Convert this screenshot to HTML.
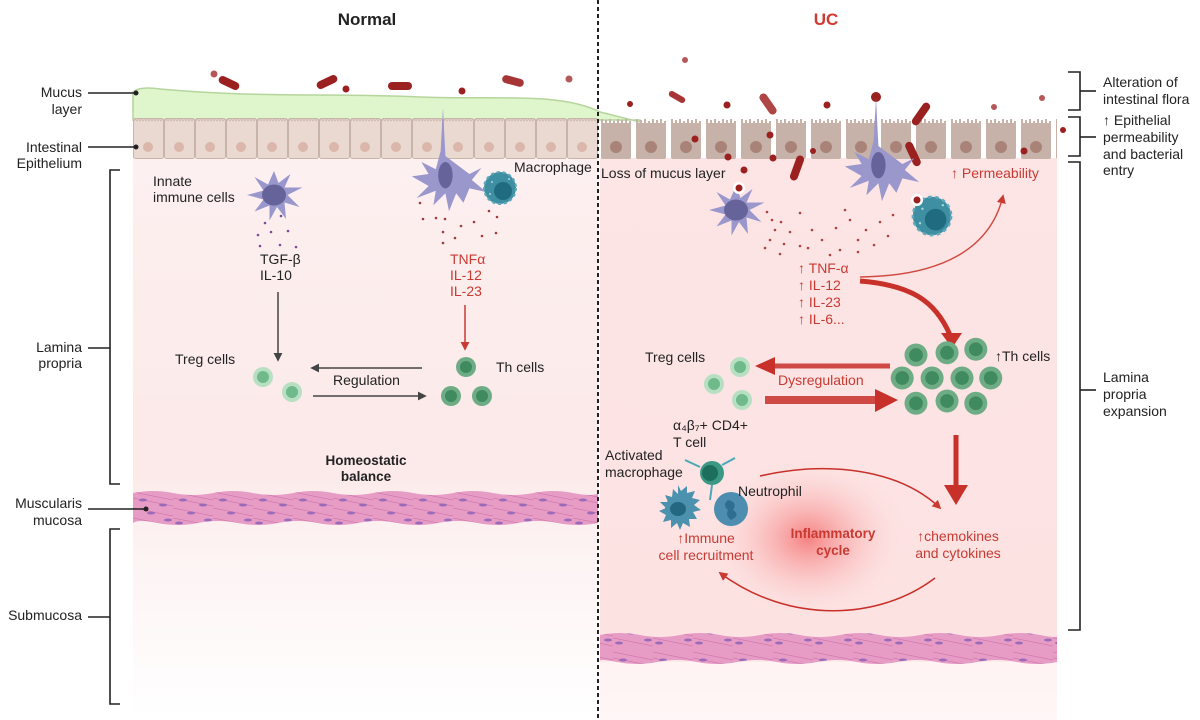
<!DOCTYPE html>
<html><head><meta charset="utf-8"><style>
html,body{margin:0;padding:0;background:#fff;}
svg{display:block;font-family:"Liberation Sans",Arial,sans-serif;}
</style></head><body>
<svg width="1200" height="720" viewBox="0 0 1200 720" xmlns="http://www.w3.org/2000/svg">
<defs>
<linearGradient id="lpN" x1="0" y1="0" x2="0" y2="1">
<stop offset="0" stop-color="#fdf0f0"/><stop offset="0.55" stop-color="#fce9e9"/><stop offset="0.7" stop-color="#fdf3f3"/><stop offset="1" stop-color="#ffffff"/></linearGradient>
<linearGradient id="lpU" x1="0" y1="0" x2="0" y2="1">
<stop offset="0" stop-color="#fde5e5"/><stop offset="0.85" stop-color="#fde2e2"/><stop offset="1" stop-color="#fff8f8"/></linearGradient>
<radialGradient id="glow" cx="0.5" cy="0.5" r="0.5">
<stop offset="0" stop-color="#f47070" stop-opacity="0.85"/><stop offset="0.5" stop-color="#f8a0a0" stop-opacity="0.4"/><stop offset="1" stop-color="#fde0e0" stop-opacity="0"/></radialGradient>
<pattern id="cellN" x="133" y="118" width="31" height="42" patternUnits="userSpaceOnUse">
<rect x="0.5" y="0.5" width="30" height="40" rx="2" fill="#ead9d0" stroke="#c9b4aa"/>
<circle cx="15" cy="29" r="5" fill="#dbb6aa"/>
<path d="M1 3 q1.5 -3 3 0 q1.5 -3 3 0 q1.5 -3 3 0 q1.5 -3 3 0 q1.5 -3 3 0 q1.5 -3 3 0 q1.5 -3 3 0 q1.5 -3 3 0 q1.5 -3 3 0 q1.5 -3 3 0" fill="none" stroke="#c9b4aa" stroke-width="0.7"/>
</pattern>
<pattern id="cellU" x="600" y="118" width="35" height="42" patternUnits="userSpaceOnUse">
<rect x="1" y="5" width="30" height="36" rx="2" fill="#c6b2a8"/>
<path d="M2 6 v-5 M6 6 v-4 M10 6 v-5 M14 6 v-3 M18 6 v-5 M22 6 v-4 M26 6 v-5 M30 6 v-3" stroke="#c6b2a8" stroke-width="2"/>
<circle cx="16" cy="29" r="6" fill="#a98378"/>
</pattern>
<pattern id="musc" x="133" y="490" width="40" height="40" patternUnits="userSpaceOnUse">
<rect width="40" height="40" fill="#e79cc6"/>
<path d="M0 8 L40 16 M0 18 L40 26 M0 28 L40 36 M0 2 L40 10" stroke="#c96aa3" stroke-width="0.6"/>
<ellipse cx="10" cy="10" rx="4" ry="1.5" fill="#9a6bb8"/><ellipse cx="30" cy="15" rx="4" ry="1.5" fill="#9a6bb8"/>
<ellipse cx="18" cy="23" rx="4" ry="1.5" fill="#9a6bb8"/><ellipse cx="35" cy="30" rx="4" ry="1.5" fill="#9a6bb8"/><ellipse cx="6" cy="33" rx="4" ry="1.5" fill="#9a6bb8"/>
</pattern>
<marker id="ak" viewBox="0 0 10 10" refX="8" refY="5" markerWidth="6" markerHeight="6" orient="auto"><path d="M0 0L10 5L0 10z" fill="#444"/></marker>
<marker id="ar" viewBox="0 0 10 10" refX="8" refY="5" markerWidth="6" markerHeight="6" orient="auto"><path d="M0 0L10 5L0 10z" fill="#c83a32"/></marker>
<g id="dc"><path d="M0 -14 l3 8 l8 -6 l-4 9 l12 0 l-10 5 l8 8 l-10 -3 l1 11 l-6 -8 l-5 9 l0 -10 l-10 4 l6 -8 l-11 -3 l11 -3 l-6 -9 l9 5z" fill="#9a97cc"/><ellipse cx="0" cy="2" rx="8" ry="7" fill="#66639a"/></g>
<g id="mac"><circle r="16" fill="#3f8fa3"/><circle r="16" fill="none" stroke="#5fa9ba" stroke-width="2" stroke-dasharray="3 3"/><circle cx="3" cy="3" r="9" fill="#206b80"/><circle cx="-8" cy="-6" r="1" fill="#a9d6df"/><circle cx="9" cy="-9" r="1" fill="#a9d6df"/><circle cx="-10" cy="6" r="1" fill="#a9d6df"/></g>
<g id="th"><circle r="10" fill="#6eac86"/><circle r="6" fill="#3f8a5e"/></g>
<g id="tr"><circle r="10" fill="#b7e0c3"/><circle r="6" fill="#70b98a"/></g>
</defs>

<rect x="133" y="158" width="465" height="560" fill="url(#lpN)"/>
<rect x="600" y="158" width="457" height="560" fill="url(#lpU)"/>
<rect x="600" y="662" width="457" height="58" fill="#fff5f5" opacity="0.8"/>
<ellipse cx="808" cy="538" rx="100" ry="80" fill="url(#glow)"/>

<path d="M133 92 Q140 86 160 89 C260 98 330 93 420 97 C500 100 560 92 600 112 L640 122 L640 120 L133 120 Z" fill="#dff5cb" stroke="#b5d59d" stroke-width="1.5"/>
<rect x="133" y="118" width="465" height="42" fill="url(#cellN)"/>
<rect x="600" y="118" width="457" height="42" fill="url(#cellU)"/>

<path d="M133 493 q20 -4 40 0 t40 0 t40 0 t40 0 t40 0 t40 0 t40 0 t40 0 t40 0 t40 0 t40 0 t25 0 v30 q-20 4 -40 0 t-40 0 t-40 0 t-40 0 t-40 0 t-40 0 t-40 0 t-40 0 t-40 0 t-40 0 t-40 0 t-25 0z" fill="url(#musc)"/>
<path d="M600 635 q20 -4 40 0 t40 0 t40 0 t40 0 t40 0 t40 0 t40 0 t40 0 t40 0 t40 0 t40 0 t17 0 v27 q-20 4 -40 0 t-40 0 t-40 0 t-40 0 t-40 0 t-40 0 t-40 0 t-40 0 t-40 0 t-40 0 t-40 0 t-17 0z" fill="url(#musc)"/>

<line x1="598" y1="0" x2="598" y2="720" stroke="#222" stroke-width="2" stroke-dasharray="4 3"/>

<text x="367" y="25" font-size="17" font-weight="bold" text-anchor="middle" fill="#222">Normal</text>
<text x="826" y="25" font-size="17" font-weight="bold" text-anchor="middle" fill="#d03a30">UC</text>

<g font-size="14" fill="#222" text-anchor="end">
<text x="82" y="97">Mucus</text><text x="82" y="114">layer</text>
<text x="82" y="152">Intestinal</text><text x="82" y="168">Epithelium</text>
<text x="82" y="352">Lamina</text><text x="82" y="368">propria</text>
<text x="82" y="508">Muscularis</text><text x="82" y="525">mucosa</text>
<text x="82" y="620">Submucosa</text>
</g>
<g stroke="#222" stroke-width="1.6" fill="none">
<line x1="88" y1="93" x2="136" y2="93"/><line x1="88" y1="147" x2="136" y2="147"/><line x1="88" y1="509" x2="146" y2="509"/>
<path d="M120 170 H110 V484 H120"/><line x1="88" y1="348" x2="110" y2="348"/>
<path d="M120 529 H110 V704 H120"/><line x1="88" y1="617" x2="110" y2="617"/>
<path d="M1068 72 H1080 V110 H1068"/><line x1="1080" y1="91" x2="1096" y2="91"/>
<path d="M1068 117 H1080 V156 H1068"/><line x1="1080" y1="137" x2="1096" y2="137"/>
<path d="M1068 162 H1080 V630 H1068"/><line x1="1080" y1="390" x2="1096" y2="390"/>
</g>
<g fill="#222"><circle cx="136" cy="93" r="2.5"/><circle cx="136" cy="147" r="2.5"/><circle cx="146" cy="509" r="2.5"/></g>
<g font-size="14" fill="#222">
<text x="1103" y="87">Alteration of</text><text x="1103" y="104">intestinal flora</text>
<text x="1103" y="125">↑ Epithelial</text><text x="1103" y="142">permeability</text><text x="1103" y="159">and bacterial</text><text x="1103" y="175">entry</text>
<text x="1103" y="382">Lamina</text><text x="1103" y="399">propria</text><text x="1103" y="416">expansion</text>
</g>

<g fill="#9b2020">
<circle cx="214" cy="74" r="3.5" fill="#b5585a"/>
<rect x="218" y="79" width="22" height="8" rx="4" transform="rotate(25 229 83)"/>
<rect x="316" y="78" width="22" height="8" rx="4" transform="rotate(-25 327 82)"/>
<circle cx="346" cy="89" r="3.5"/>
<rect x="388" y="82" width="24" height="8" rx="4"/>
<circle cx="462" cy="91" r="3.5"/>
<rect x="502" y="77" width="22" height="8" rx="4" transform="rotate(15 513 81)" fill="#a83535"/>
<circle cx="569" cy="79" r="3.5" fill="#b5585a"/>
<circle cx="685" cy="60" r="3" fill="#b5585a"/><circle cx="630" cy="104" r="3"/>
<rect x="668" y="94" width="18" height="6" rx="3" transform="rotate(30 677 97)" fill="#a83535"/>
<circle cx="727" cy="105" r="3.5"/><circle cx="827" cy="105" r="3.5"/><circle cx="876" cy="97" r="5"/>
<rect x="756" y="100" width="24" height="8" rx="4" transform="rotate(55 768 104)" fill="#b04545"/>
<rect x="908" y="110" width="26" height="8" rx="4" transform="rotate(-55 921 114)"/>
<circle cx="994" cy="107" r="3" fill="#b5585a"/><circle cx="1042" cy="98" r="3" fill="#b5585a"/>
<circle cx="695" cy="139" r="3.5"/><circle cx="770" cy="135" r="3.5"/><circle cx="773" cy="158" r="3.5"/><circle cx="728" cy="157" r="3.5"/>
<circle cx="813" cy="151" r="3"/><circle cx="1024" cy="151" r="3.5"/><circle cx="1063" cy="130" r="3"/><circle cx="744" cy="170" r="3.5"/>
<rect x="784" y="164" width="26" height="8" rx="4" transform="rotate(-70 797 168)"/>
<rect x="900" y="150" width="26" height="8" rx="4" transform="rotate(65 913 154)"/>
</g>

<use href="#dc" transform="translate(274 192) scale(1.5)"/>
<g transform="translate(443 180) scale(1.2)"><path d="M0 -60 l2 40 l20 15 l10 -5 l-8 10 l12 10 l-14 -3 l-5 12 l-6 -8 l-6 15 l-3 -15 l-10 10 l2 -12 l-16 6 l10 -10 l-14 -8 l14 -2 l-6 -10 l12 6 l4 -15z" fill="#9a97cc"/><ellipse cx="2" cy="-4" rx="6" ry="11" fill="#66639a"/></g>
<use href="#mac" x="500" y="188"/>
<g fill="#7e4a9a"><circle cx="265" cy="223" r="1.3"/><circle cx="281" cy="216" r="1.3"/><circle cx="271" cy="232" r="1.3"/><circle cx="288" cy="231" r="1.3"/><circle cx="258" cy="235" r="1.3"/><circle cx="260" cy="246" r="1.3"/><circle cx="280" cy="245" r="1.3"/><circle cx="296" cy="247" r="1.3"/></g>
<g fill="#a33a3a"><circle cx="420" cy="203" r="1.3"/><circle cx="423" cy="219" r="1.3"/><circle cx="436" cy="218" r="1.3"/><circle cx="445" cy="219" r="1.3"/><circle cx="443" cy="232" r="1.3"/><circle cx="455" cy="238" r="1.3"/><circle cx="461" cy="226" r="1.3"/><circle cx="474" cy="222" r="1.3"/><circle cx="482" cy="236" r="1.3"/><circle cx="496" cy="233" r="1.3"/><circle cx="497" cy="217" r="1.3"/><circle cx="489" cy="211" r="1.3"/><circle cx="443" cy="243" r="1.3"/></g>
<g font-size="14" fill="#222">
<text x="153" y="186">Innate</text><text x="153" y="202">immune cells</text>
<text x="514" y="172">Macrophage</text>
<text x="260" y="264">TGF-β</text><text x="260" y="280">IL-10</text>
<text x="175" y="364">Treg cells</text><text x="496" y="372">Th cells</text>
<text x="333" y="385">Regulation</text>
</g>
<g font-size="14" fill="#c83a32"><text x="450" y="264">TNFα</text><text x="450" y="280">IL-12</text><text x="450" y="296">IL-23</text></g>
<text x="366" y="465" font-size="13.5" font-weight="bold" text-anchor="middle" fill="#222">Homeostatic</text>
<text x="366" y="481" font-size="13.5" font-weight="bold" text-anchor="middle" fill="#222">balance</text>
<line x1="278" y1="292" x2="278" y2="360" stroke="#444" stroke-width="1.5" marker-end="url(#ak)"/>
<line x1="465" y1="305" x2="465" y2="349" stroke="#c83a32" stroke-width="1.5" marker-end="url(#ar)"/>
<line x1="422" y1="368" x2="312" y2="368" stroke="#444" stroke-width="1.5" marker-end="url(#ak)"/>
<line x1="313" y1="396" x2="425" y2="396" stroke="#444" stroke-width="1.5" marker-end="url(#ak)"/>
<use href="#tr" x="263" y="377"/><use href="#tr" x="292" y="392"/>
<use href="#th" x="466" y="367"/><use href="#th" x="451" y="396"/><use href="#th" x="482" y="396"/>

<use href="#dc" transform="translate(736 207) scale(1.5)"/><circle cx="739" cy="188" r="6" fill="#fff"/><circle cx="739" cy="188" r="3.5" fill="#9b2020"/>
<g transform="translate(876 170) scale(1.2)"><path d="M0 -60 l2 40 l20 15 l10 -5 l-8 10 l12 10 l-14 -3 l-5 12 l-6 -8 l-6 15 l-3 -15 l-10 10 l2 -12 l-16 6 l10 -10 l-14 -8 l14 -2 l-6 -10 l12 6 l4 -15z" fill="#9a97cc"/><ellipse cx="2" cy="-4" rx="6" ry="11" fill="#66639a"/></g>
<g transform="translate(932 216)"><use href="#mac" transform="scale(1.2)"/></g><circle cx="917" cy="200" r="6" fill="#fff"/><circle cx="917" cy="200" r="3.5" fill="#9b2020"/>
<g fill="#b04040"><circle cx="767" cy="212" r="1.3"/><circle cx="772" cy="220" r="1.3"/><circle cx="781" cy="222" r="1.3"/><circle cx="775" cy="230" r="1.3"/><circle cx="790" cy="232" r="1.3"/><circle cx="770" cy="240" r="1.3"/><circle cx="784" cy="244" r="1.3"/><circle cx="800" cy="246" r="1.3"/><circle cx="765" cy="248" r="1.3"/><circle cx="780" cy="254" r="1.3"/><circle cx="808" cy="248" r="1.3"/><circle cx="812" cy="230" r="1.3"/><circle cx="822" cy="240" r="1.3"/><circle cx="836" cy="228" r="1.3"/><circle cx="840" cy="250" r="1.3"/><circle cx="845" cy="210" r="1.3"/><circle cx="850" cy="220" r="1.3"/><circle cx="858" cy="240" r="1.3"/><circle cx="866" cy="230" r="1.3"/><circle cx="874" cy="245" r="1.3"/><circle cx="880" cy="222" r="1.3"/><circle cx="888" cy="236" r="1.3"/><circle cx="893" cy="215" r="1.3"/><circle cx="830" cy="255" r="1.3"/><circle cx="858" cy="252" r="1.3"/><circle cx="800" cy="213" r="1.3"/></g>
<text x="601" y="178" font-size="14" fill="#222">Loss of mucus layer</text>
<text x="951" y="178" font-size="14" fill="#c83a32">↑ Permeability</text>
<g font-size="14" fill="#c83a32"><text x="798" y="273">↑ TNF-α</text><text x="798" y="290">↑ IL-12</text><text x="798" y="307">↑ IL-23</text><text x="798" y="324">↑ IL-6...</text></g>
<path d="M860 277 C940 276 990 250 1003 196" fill="none" stroke="#d04a40" stroke-width="1.5" marker-end="url(#ar)"/>
<path d="M860 281 C910 285 935 300 950 335" fill="none" stroke="#c8302a" stroke-width="5"/>
<path d="M941 333 L962 333 L952 348z" fill="#c8302a"/>

<g transform="translate(916 355) scale(1.15)">
<use href="#th" x="0" y="0"/><use href="#th" x="27" y="-2"/><use href="#th" x="52" y="-5"/>
<use href="#th" x="-12" y="20"/><use href="#th" x="14" y="20"/><use href="#th" x="40" y="20"/><use href="#th" x="65" y="20"/>
<use href="#th" x="0" y="42"/><use href="#th" x="27" y="40"/><use href="#th" x="52" y="42"/>
</g>
<text x="995" y="361" font-size="14" fill="#222">↑Th cells</text>
<text x="645" y="362" font-size="14" fill="#222">Treg cells</text>
<use href="#tr" x="740" y="367"/><use href="#tr" x="714" y="384"/><use href="#tr" x="742" y="400"/>
<line x1="890" y1="366" x2="775" y2="366" stroke="#c8302a" stroke-width="5" opacity="0.85"/>
<path d="M755 366 L775 357 L775 375z" fill="#c8302a"/>
<text x="778" y="385" font-size="14" fill="#c83a32">Dysregulation</text>
<line x1="765" y1="400" x2="875" y2="400" stroke="#c8302a" stroke-width="8" opacity="0.85"/>
<path d="M898 400 L875 389 L875 412z" fill="#c8302a"/>
<line x1="956" y1="435" x2="956" y2="485" stroke="#c8302a" stroke-width="5"/>
<path d="M944 485 L968 485 L956 505z" fill="#c8302a"/>

<path d="M760 476 C830 460 900 470 940 508" fill="none" stroke="#c8302a" stroke-width="1.5" marker-end="url(#ar)"/>
<path d="M935 578 C880 620 790 625 720 573" fill="none" stroke="#c8302a" stroke-width="1.5" marker-end="url(#ar)"/>
<g transform="translate(678 509)"><path d="M0 -24 l3 6 l6 -5 l0 7 l8 -2 l-3 7 l8 2 l-6 5 l7 5 l-8 2 l4 7 l-8 0 l1 8 l-7 -4 l-3 7 l-3 -7 l-6 5 l0 -8 l-8 2 l3 -7 l-7 -4 l7 -3 l-6 -6 l8 0 l-3 -7 l7 2 l1 -8 l5 5z" fill="#4c91ad"/><circle r="13" fill="#4c91ad"/><ellipse cx="0" cy="0" rx="8" ry="7" fill="#236880"/></g>
<circle cx="712" cy="473" r="12" fill="#3a9884"/><circle cx="710" cy="473" r="8" fill="#1d6e5c"/>
<path d="M700 467 L685 460 M722 465 L735 458 M712 485 L710 500" stroke="#4aa9b8" stroke-width="2"/>
<circle cx="731" cy="509" r="17" fill="#4c8db0"/><path d="M728 500 q10 2 5 10 q8 5 -2 10 q-6 -4 -3 -10 q-6 -5 0 -10z" fill="#306e90"/>
<g font-size="14" fill="#222">
<text x="673" y="430">α₄β₇+ CD4+</text><text x="673" y="447">T cell</text>
<text x="605" y="460">Activated</text><text x="605" y="477">macrophage</text>
<text x="738" y="496">Neutrophil</text>
</g>
<g font-size="14" fill="#c83a32" text-anchor="middle">
<text x="706" y="543">↑Immune</text><text x="706" y="560">cell recruitment</text>
<text x="958" y="541">↑chemokines</text><text x="958" y="558">and cytokines</text>
</g>
<text x="833" y="538" font-size="13.5" font-weight="bold" fill="#c83a32" text-anchor="middle">Inflammatory</text>
<text x="833" y="555" font-size="13.5" font-weight="bold" fill="#c83a32" text-anchor="middle">cycle</text>
</svg>
</body></html>
